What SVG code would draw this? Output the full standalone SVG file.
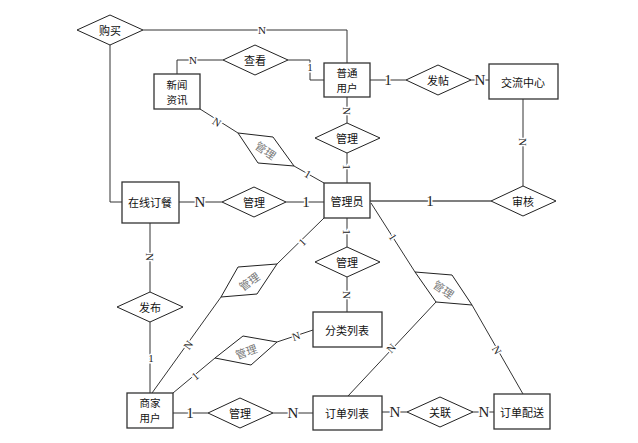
<svg xmlns="http://www.w3.org/2000/svg" width="638" height="443" viewBox="0 0 638 443">
<style>
.box{fill:#fff;stroke:#333;stroke-width:1.3}
.dia{fill:#fff;stroke:#222;stroke-width:1}
.t{font-family:"Noto Sans CJK SC",sans-serif;font-size:11px;fill:#111;text-anchor:middle;dominant-baseline:central}
.t2{font-family:"Noto Sans CJK SC",sans-serif;font-size:10.5px;fill:#111;text-anchor:middle;dominant-baseline:central}
.tg{font-family:"Noto Sans CJK SC",sans-serif;font-size:11px;fill:#777;text-anchor:middle;dominant-baseline:central}
.ln{fill:none;stroke:#333;stroke-width:1}
.lb{font-family:"Liberation Serif",serif;font-size:11px;fill:#222;text-anchor:middle;dominant-baseline:central;stroke:#fff;stroke-width:3;paint-order:stroke}
.lB{font-family:"Liberation Serif",serif;font-size:15px;fill:#222;text-anchor:middle;dominant-baseline:central;stroke:#fff;stroke-width:3;paint-order:stroke}
</style>
<rect width="638" height="443" fill="#fff"/>
<g id="connectors">
<polyline class="ln" points="143,30 347,30 347,63"/>
<polyline class="ln" points="110,45 110,202 122,202"/>
<polyline class="ln" points="223,60 177,60 177,74"/>
<polyline class="ln" points="288,60 310,60 310,80 324,80"/>
<line class="ln" x1="370" y1="80" x2="406" y2="80"/>
<line class="ln" x1="471" y1="80" x2="489" y2="80"/>
<line class="ln" x1="347" y1="97" x2="347" y2="123"/>
<line class="ln" x1="347" y1="153" x2="347" y2="183"/>
<line class="ln" x1="523" y1="99" x2="523" y2="186"/>
<line class="ln" x1="370" y1="201" x2="491" y2="201" style="stroke:#555;stroke-width:1.3"/>
<line class="ln" x1="200" y1="109" x2="238" y2="133"/>
<line class="ln" x1="294" y1="166" x2="324" y2="183"/>
<line class="ln" x1="179" y1="202" x2="222" y2="202"/>
<line class="ln" x1="286" y1="202" x2="324" y2="202"/>
<line class="ln" x1="150" y1="223" x2="150" y2="292"/>
<line class="ln" x1="150" y1="322" x2="150" y2="393"/>
<line class="ln" x1="347" y1="218" x2="347" y2="247"/>
<line class="ln" x1="347" y1="277" x2="347" y2="312"/>
<line class="ln" x1="324" y1="218" x2="277" y2="264"/>
<line class="ln" x1="221" y1="297" x2="152" y2="393"/>
<line class="ln" x1="173" y1="393" x2="215" y2="358"/>
<line class="ln" x1="277" y1="342" x2="313" y2="330"/>
<line class="ln" x1="173" y1="413" x2="208" y2="413"/>
<line class="ln" x1="273" y1="413" x2="313" y2="413"/>
<line class="ln" x1="382" y1="412" x2="407" y2="412"/>
<line class="ln" x1="473" y1="412" x2="494" y2="412"/>
<line class="ln" x1="371" y1="203" x2="415" y2="272"/>
<line class="ln" x1="472" y1="305" x2="523" y2="394"/>
<line class="ln" x1="436" y1="302" x2="348" y2="396"/>
<text class="lb" x="262" y="30">N</text>
<text class="lb" x="193" y="60">N</text>
<text class="lb" x="310" y="67">1</text>
<text class="lB" x="388" y="80">1</text>
<text class="lB" x="480" y="80">N</text>
<text class="lb" transform="translate(347,111) rotate(90)">N</text>
<text class="lb" transform="translate(347,167) rotate(90)">1</text>
<text class="lb" transform="translate(523,142) rotate(90)">N</text>
<text class="lB" x="430" y="201">1</text>
<text class="lb" transform="translate(217,122) rotate(32)">N</text>
<text class="lb" transform="translate(308,174) rotate(30)">1</text>
<text class="lB" x="200" y="202">N</text>
<text class="lB" x="306" y="202">1</text>
<text class="lb" transform="translate(150,257) rotate(90)">N</text>
<text class="lb" x="151" y="358">1</text>
<text class="lb" transform="translate(347,232) rotate(90)">1</text>
<text class="lb" transform="translate(347,295) rotate(90)">N</text>
<text class="lb" transform="translate(302,242) rotate(-45)">1</text>
<text class="lb" transform="translate(188,345) rotate(-54)">N</text>
<text class="lb" transform="translate(195,376) rotate(-40)">1</text>
<text class="lb" transform="translate(296,336) rotate(-18)">N</text>
<text class="lB" x="190" y="413">1</text>
<text class="lB" x="293" y="413">N</text>
<text class="lB" x="395" y="412">N</text>
<text class="lB" x="484" y="412">N</text>
<text class="lb" transform="translate(393,237) rotate(57)">1</text>
<text class="lb" transform="translate(497,350) rotate(60)">N</text>
<text class="lb" transform="translate(391,348) rotate(-47)">N</text>
</g>
<g id="n_putong"><rect class="box" x="324" y="63" width="46" height="34"/><text class="t2" x="347" y="72.5">普通</text><text class="t2" x="347" y="87.5">用户</text></g>
<g id="n_jiaoliu"><rect class="box" x="489" y="64" width="69" height="35"/><text class="t" x="523" y="82">交流中心</text></g>
<g id="n_xinwen"><rect class="box" x="154" y="74" width="46" height="35"/><text class="t2" x="177" y="84.5">新闻</text><text class="t2" x="177" y="99.5">资讯</text></g>
<g id="n_admin"><rect class="box" x="324" y="183" width="46" height="35"/><text class="t" x="347" y="201">管理员</text></g>
<g id="n_order"><rect class="box" x="122" y="182" width="57" height="41"/><text class="t" x="150" y="202">在线订餐</text></g>
<g id="n_cat"><rect class="box" x="313" y="312" width="69" height="35"/><text class="t" x="347" y="330">分类列表</text></g>
<g id="n_shop"><rect class="box" x="127" y="393" width="46" height="35"/><text class="t2" x="150" y="402.5">商家</text><text class="t2" x="150" y="417.5">用户</text></g>
<g id="n_olist"><rect class="box" x="313" y="396" width="69" height="34"/><text class="t" x="347" y="413">订单列表</text></g>
<g id="n_deliv"><rect class="box" x="494" y="394" width="56" height="35"/><text class="t" x="522" y="412">订单配送</text></g>
<g id="r_buy"><polygon class="dia" points="77,30 110,15 143,30 110,45"/><text class="t" x="110" y="30">购买</text></g>
<g id="r_view"><polygon class="dia" points="223,60 255,45 288,60 255,75"/><text class="t" x="255" y="60">查看</text></g>
<g id="r_post"><polygon class="dia" points="406,80 438,65 471,80 438,95"/><text class="t" x="438" y="80">发帖</text></g>
<g id="r_m1"><polygon class="dia" points="315,138 347,123 380,138 347,153"/><text class="t" x="347" y="138">管理</text></g>
<g id="r_m2"><polygon class="dia" points="238,133 273,137 294,166 258,163"/><text class="tg" transform="translate(266,150) rotate(35)">管理</text></g>
<g id="r_m3"><polygon class="dia" points="222,202 254,187 286,202 254,217"/><text class="t" x="254" y="202">管理</text></g>
<g id="r_audit"><polygon class="dia" points="491,201 523,186 556,201 523,216"/><text class="t" x="523" y="201">审核</text></g>
<g id="r_m4"><polygon class="dia" points="315,262 347,247 380,262 347,277"/><text class="t" x="347" y="262">管理</text></g>
<g id="r_pub"><polygon class="dia" points="117,307 150,292 183,307 150,322"/><text class="t" x="150" y="307">发布</text></g>
<g id="r_m5"><polygon class="dia" points="221,297 238,267 277,264 257,294"/><text class="tg" transform="translate(249,281) rotate(-35)">管理</text></g>
<g id="r_m6"><polygon class="dia" points="215,358 243,336 277,342 251,365"/><text class="tg" transform="translate(246,351) rotate(-20)">管理</text></g>
<g id="r_m7"><polygon class="dia" points="415,272 452,275 472,305 436,302"/><text class="tg" transform="translate(444,289) rotate(35)">管理</text></g>
<g id="r_m8"><polygon class="dia" points="208,413 240,398 273,413 240,428"/><text class="t" x="240" y="413">管理</text></g>
<g id="r_rel"><polygon class="dia" points="407,412 440,397 473,412 440,427"/><text class="t" x="440" y="412">关联</text></g>
</svg>
